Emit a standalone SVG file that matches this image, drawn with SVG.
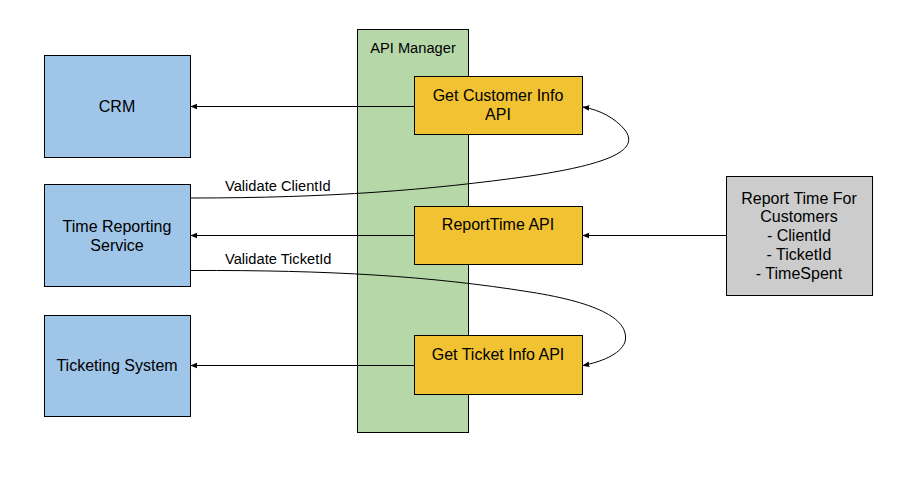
<svg xmlns="http://www.w3.org/2000/svg" width="914" height="480" viewBox="0 0 914 480">
<defs>
<style>
.box{stroke:#000;stroke-width:1}
.blue{fill:#9fc5e8}
.green{fill:#b6d7a8}
.yellow{fill:#f1c232}
.gray{fill:#cccccc}
text{font-family:"Liberation Sans",Arial,sans-serif;font-size:16px;fill:#000;text-anchor:middle}
.lbl{font-size:14.67px;text-anchor:start}
.small{font-size:14.67px}
.conn{fill:none;stroke:#000;stroke-width:1}
</style>
<marker id="ah" viewBox="0 0 10 10" refX="9" refY="5" markerWidth="7" markerHeight="7" markerUnits="userSpaceOnUse" orient="auto">
<path d="M0,1 L10,5 L0,9 z" fill="#000"/>
</marker>
</defs>
<rect width="914" height="480" fill="#fff"/>
<g id="api-manager">
<rect class="box green" x="357.5" y="29.5" width="111" height="403"/>
<text class="small" x="413" y="53">API Manager</text>
</g>
<g id="crm">
<rect class="box blue" x="44.5" y="55.5" width="146" height="102"/>
<text x="117" y="112">CRM</text>
</g>
<g id="time-reporting">
<rect class="box blue" x="44.5" y="184.5" width="146" height="102"/>
<text x="117" y="232">Time Reporting</text>
<text x="117" y="251">Service</text>
</g>
<g id="ticketing">
<rect class="box blue" x="44.5" y="315.5" width="146" height="101"/>
<text x="117" y="371">Ticketing System</text>
</g>
<g id="get-customer">
<rect class="box yellow" x="414.5" y="76.5" width="168" height="58"/>
<text x="498" y="101">Get Customer Info</text>
<text x="498" y="120">API</text>
</g>
<g id="report-time">
<rect class="box yellow" x="414.5" y="206.5" width="168" height="58"/>
<text x="498" y="230">ReportTime API</text>
</g>
<g id="get-ticket">
<rect class="box yellow" x="414.5" y="335.5" width="168" height="59"/>
<text x="498" y="360">Get Ticket Info API</text>
</g>
<g id="report-request">
<rect class="box gray" x="726.5" y="176.5" width="146" height="119"/>
<text x="799" y="204">Report Time For</text>
<text x="799" y="222">Customers</text>
<text x="799" y="241">- ClientId</text>
<text x="799" y="260">- TicketId</text>
<text x="799" y="279">- TimeSpent</text>
</g>
<g id="connectors">
<line class="conn" x1="414" y1="106.5" x2="191" y2="106.5" marker-end="url(#ah)"/>
<line class="conn" x1="414" y1="235.5" x2="191" y2="235.5" marker-end="url(#ah)"/>
<line class="conn" x1="414" y1="365.5" x2="191" y2="365.5" marker-end="url(#ah)"/>
<line class="conn" x1="726" y1="235.5" x2="583" y2="235.5" marker-end="url(#ah)"/>
<path class="conn" d="M191,198 C330,198 430,190 530,176 C610,164 640,150 625,130 C615,118 600,110 583,107" marker-end="url(#ah)"/>
<path class="conn" d="M191,270.5 C330,270 430,276 530,292 C600,303 630,320 625,342 C620,355 600,362 583,365.5" marker-end="url(#ah)"/>
<text class="lbl" x="225" y="191">Validate ClientId</text>
<text class="lbl" x="225" y="264">Validate TicketId</text>
</g>
</svg>
